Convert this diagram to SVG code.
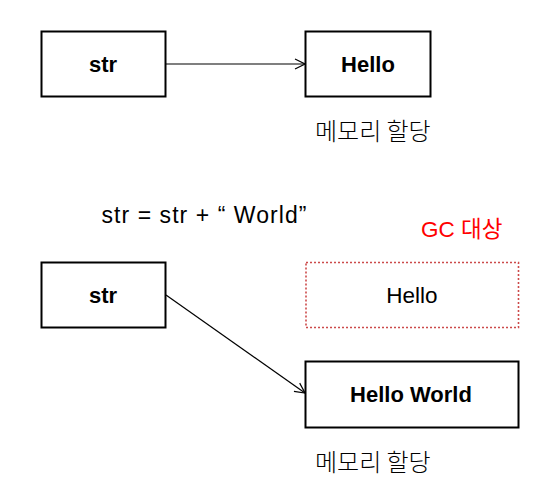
<svg xmlns="http://www.w3.org/2000/svg" width="558" height="501" viewBox="0 0 558 501">
<style>
.box{fill:#fff;stroke:#000;stroke-width:2}
.gc{fill:#fff;stroke:#cc4a4a;stroke-width:1.6;stroke-dasharray:2 2}
.bt{font-family:"Liberation Sans","Noto Sans CJK KR",sans-serif;font-size:22px;font-weight:bold;text-anchor:middle;fill:#000}
.rt{font-family:"Liberation Sans","Noto Sans CJK KR",sans-serif;font-size:22.5px;text-anchor:middle;fill:#000}
.kr{font-family:"Noto Sans CJK KR",sans-serif;font-size:24px;font-weight:300;fill:#000}
.conn{stroke:#000;stroke-width:1.2;fill:none}
</style>
<defs>
<marker id="arr" viewBox="0 0 12 12" refX="11" refY="6" markerWidth="12" markerHeight="12" markerUnits="userSpaceOnUse" orient="auto">
<path d="M1,1 L11,6 L1,11" fill="none" stroke="#000" stroke-width="1.2"/>
</marker>
</defs>
<rect width="558" height="501" fill="#fff"/>
<g id="connectors">
<line class="conn" x1="166" y1="64" x2="305" y2="64" marker-end="url(#arr)"/>
<line class="conn" x1="166" y1="295" x2="305" y2="393" marker-end="url(#arr)"/>
</g>
<g id="str1">
<rect class="box" x="41.5" y="31.5" width="124" height="65"/>
<text class="bt" x="103" y="72">str</text>
</g>
<g id="hello1">
<rect class="box" x="305.5" y="31.5" width="125" height="65"/>
<text class="bt" x="368" y="72">Hello</text>
</g>
<text id="label1" class="kr" x="315" y="140">메모리 할당</text>
<text id="expr" x="101.5" y="223" font-family="Liberation Sans,sans-serif" font-size="23" textLength="205" fill="#000">str = str + “ World”</text>
<text id="gclabel" x="421" y="236.5" font-family="Liberation Sans,Noto Sans CJK KR,sans-serif" font-size="22.5" fill="#ff0000">GC 대상</text>
<g id="str2">
<rect class="box" x="41.5" y="262.5" width="124" height="65"/>
<text class="bt" x="103" y="303">str</text>
</g>
<g id="hello2">
<rect class="gc" x="306" y="262.5" width="212.5" height="65"/>
<text class="rt" x="412" y="302.5">Hello</text>
</g>
<g id="helloworld">
<rect class="box" x="305.5" y="361.5" width="213" height="66"/>
<text class="bt" x="411" y="401.5">Hello World</text>
</g>
<text id="label2" class="kr" x="315" y="471">메모리 할당</text>
</svg>
